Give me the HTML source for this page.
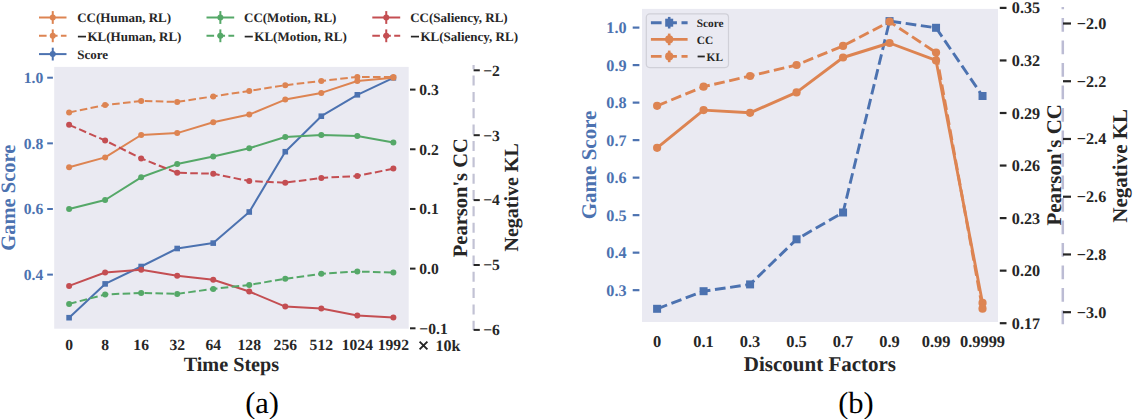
<!DOCTYPE html>
<html><head><meta charset="utf-8"><style>
html,body{margin:0;padding:0;background:#fff;width:1134px;height:419px;overflow:hidden}
svg{display:block;text-rendering:geometricPrecision}
</style></head><body>
<svg width="1134" height="419" viewBox="0 0 1134 419">
<rect x="0" y="0" width="1134" height="419" fill="#fff"/>
<rect x="54.2" y="66.9" width="354.5" height="261.79999999999995" fill="#EAEAF2"/>
<polyline points="69.10,317.70 105.13,283.90 141.16,266.50 177.19,248.50 213.22,243.10 249.25,212.00 285.28,151.70 321.31,116.20 357.34,94.80 393.37,77.80" fill="none" stroke="#4C72B0" stroke-width="2.0" stroke-linejoin="round" stroke-linecap="butt"/>
<rect x="66.30" y="314.90" width="5.6" height="5.6" fill="#4C72B0"/>
<rect x="102.33" y="281.10" width="5.6" height="5.6" fill="#4C72B0"/>
<rect x="138.36" y="263.70" width="5.6" height="5.6" fill="#4C72B0"/>
<rect x="174.39" y="245.70" width="5.6" height="5.6" fill="#4C72B0"/>
<rect x="210.42" y="240.30" width="5.6" height="5.6" fill="#4C72B0"/>
<rect x="246.45" y="209.20" width="5.6" height="5.6" fill="#4C72B0"/>
<rect x="282.48" y="148.90" width="5.6" height="5.6" fill="#4C72B0"/>
<rect x="318.51" y="113.40" width="5.6" height="5.6" fill="#4C72B0"/>
<rect x="354.54" y="92.00" width="5.6" height="5.6" fill="#4C72B0"/>
<rect x="390.57" y="75.00" width="5.6" height="5.6" fill="#4C72B0"/>
<polyline points="69.10,167.30 105.13,157.40 141.16,135.00 177.19,133.10 213.22,122.30 249.25,114.60 285.28,99.60 321.31,92.90 357.34,81.00 393.37,77.80" fill="none" stroke="#DD8452" stroke-width="2.0" stroke-linejoin="round" stroke-linecap="butt"/>
<circle cx="69.10" cy="167.30" r="3.0" fill="#DD8452"/>
<circle cx="105.13" cy="157.40" r="3.0" fill="#DD8452"/>
<circle cx="141.16" cy="135.00" r="3.0" fill="#DD8452"/>
<circle cx="177.19" cy="133.10" r="3.0" fill="#DD8452"/>
<circle cx="213.22" cy="122.30" r="3.0" fill="#DD8452"/>
<circle cx="249.25" cy="114.60" r="3.0" fill="#DD8452"/>
<circle cx="285.28" cy="99.60" r="3.0" fill="#DD8452"/>
<circle cx="321.31" cy="92.90" r="3.0" fill="#DD8452"/>
<circle cx="357.34" cy="81.00" r="3.0" fill="#DD8452"/>
<circle cx="393.37" cy="77.80" r="3.0" fill="#DD8452"/>
<polyline points="69.10,209.00 105.13,200.00 141.16,177.30 177.19,164.10 213.22,156.50 249.25,148.20 285.28,137.00 321.31,135.00 357.34,136.00 393.37,142.40" fill="none" stroke="#55A868" stroke-width="2.0" stroke-linejoin="round" stroke-linecap="butt"/>
<circle cx="69.10" cy="209.00" r="3.0" fill="#55A868"/>
<circle cx="105.13" cy="200.00" r="3.0" fill="#55A868"/>
<circle cx="141.16" cy="177.30" r="3.0" fill="#55A868"/>
<circle cx="177.19" cy="164.10" r="3.0" fill="#55A868"/>
<circle cx="213.22" cy="156.50" r="3.0" fill="#55A868"/>
<circle cx="249.25" cy="148.20" r="3.0" fill="#55A868"/>
<circle cx="285.28" cy="137.00" r="3.0" fill="#55A868"/>
<circle cx="321.31" cy="135.00" r="3.0" fill="#55A868"/>
<circle cx="357.34" cy="136.00" r="3.0" fill="#55A868"/>
<circle cx="393.37" cy="142.40" r="3.0" fill="#55A868"/>
<polyline points="69.10,285.90 105.13,272.50 141.16,269.80 177.19,275.80 213.22,279.80 249.25,291.50 285.28,306.60 321.31,308.60 357.34,315.60 393.37,317.60" fill="none" stroke="#C44E52" stroke-width="2.0" stroke-linejoin="round" stroke-linecap="butt"/>
<circle cx="69.10" cy="285.90" r="3.0" fill="#C44E52"/>
<circle cx="105.13" cy="272.50" r="3.0" fill="#C44E52"/>
<circle cx="141.16" cy="269.80" r="3.0" fill="#C44E52"/>
<circle cx="177.19" cy="275.80" r="3.0" fill="#C44E52"/>
<circle cx="213.22" cy="279.80" r="3.0" fill="#C44E52"/>
<circle cx="249.25" cy="291.50" r="3.0" fill="#C44E52"/>
<circle cx="285.28" cy="306.60" r="3.0" fill="#C44E52"/>
<circle cx="321.31" cy="308.60" r="3.0" fill="#C44E52"/>
<circle cx="357.34" cy="315.60" r="3.0" fill="#C44E52"/>
<circle cx="393.37" cy="317.60" r="3.0" fill="#C44E52"/>
<polyline points="69.10,112.40 105.13,105.10 141.16,101.00 177.19,101.90 213.22,96.40 249.25,90.90 285.28,85.20 321.31,81.00 357.34,76.90 393.37,76.90" fill="none" stroke="#DD8452" stroke-width="2.0" stroke-linejoin="round" stroke-linecap="butt" stroke-dasharray="7.6 3.35"/>
<circle cx="69.10" cy="112.40" r="3.0" fill="#DD8452"/>
<circle cx="105.13" cy="105.10" r="3.0" fill="#DD8452"/>
<circle cx="141.16" cy="101.00" r="3.0" fill="#DD8452"/>
<circle cx="177.19" cy="101.90" r="3.0" fill="#DD8452"/>
<circle cx="213.22" cy="96.40" r="3.0" fill="#DD8452"/>
<circle cx="249.25" cy="90.90" r="3.0" fill="#DD8452"/>
<circle cx="285.28" cy="85.20" r="3.0" fill="#DD8452"/>
<circle cx="321.31" cy="81.00" r="3.0" fill="#DD8452"/>
<circle cx="357.34" cy="76.90" r="3.0" fill="#DD8452"/>
<circle cx="393.37" cy="76.90" r="3.0" fill="#DD8452"/>
<polyline points="69.10,303.90 105.13,294.50 141.16,292.90 177.19,293.90 213.22,288.90 249.25,284.90 285.28,278.80 321.31,273.80 357.34,271.50 393.37,272.50" fill="none" stroke="#55A868" stroke-width="2.0" stroke-linejoin="round" stroke-linecap="butt" stroke-dasharray="7.6 3.35"/>
<circle cx="69.10" cy="303.90" r="3.0" fill="#55A868"/>
<circle cx="105.13" cy="294.50" r="3.0" fill="#55A868"/>
<circle cx="141.16" cy="292.90" r="3.0" fill="#55A868"/>
<circle cx="177.19" cy="293.90" r="3.0" fill="#55A868"/>
<circle cx="213.22" cy="288.90" r="3.0" fill="#55A868"/>
<circle cx="249.25" cy="284.90" r="3.0" fill="#55A868"/>
<circle cx="285.28" cy="278.80" r="3.0" fill="#55A868"/>
<circle cx="321.31" cy="273.80" r="3.0" fill="#55A868"/>
<circle cx="357.34" cy="271.50" r="3.0" fill="#55A868"/>
<circle cx="393.37" cy="272.50" r="3.0" fill="#55A868"/>
<polyline points="69.10,124.80 105.13,140.50 141.16,158.40 177.19,172.80 213.22,173.70 249.25,181.10 285.28,182.70 321.31,177.90 357.34,176.00 393.37,168.60" fill="none" stroke="#C44E52" stroke-width="2.0" stroke-linejoin="round" stroke-linecap="butt" stroke-dasharray="7.6 3.35"/>
<circle cx="69.10" cy="124.80" r="3.0" fill="#C44E52"/>
<circle cx="105.13" cy="140.50" r="3.0" fill="#C44E52"/>
<circle cx="141.16" cy="158.40" r="3.0" fill="#C44E52"/>
<circle cx="177.19" cy="172.80" r="3.0" fill="#C44E52"/>
<circle cx="213.22" cy="173.70" r="3.0" fill="#C44E52"/>
<circle cx="249.25" cy="181.10" r="3.0" fill="#C44E52"/>
<circle cx="285.28" cy="182.70" r="3.0" fill="#C44E52"/>
<circle cx="321.31" cy="177.90" r="3.0" fill="#C44E52"/>
<circle cx="357.34" cy="176.00" r="3.0" fill="#C44E52"/>
<circle cx="393.37" cy="168.60" r="3.0" fill="#C44E52"/>
<line x1="47.2" y1="77.7" x2="52.9" y2="77.7" stroke="#4C72B0" stroke-width="2"/>
<text x="43.2" y="83.0" font-family='"Liberation Serif", serif' font-size="15.6" font-weight="bold" fill="#4C72B0" text-anchor="end">1.0</text>
<line x1="47.2" y1="143.33999999999997" x2="52.9" y2="143.33999999999997" stroke="#4C72B0" stroke-width="2"/>
<text x="43.2" y="148.64" font-family='"Liberation Serif", serif' font-size="15.6" font-weight="bold" fill="#4C72B0" text-anchor="end">0.8</text>
<line x1="47.2" y1="208.98000000000002" x2="52.9" y2="208.98000000000002" stroke="#4C72B0" stroke-width="2"/>
<text x="43.2" y="214.28000000000003" font-family='"Liberation Serif", serif' font-size="15.6" font-weight="bold" fill="#4C72B0" text-anchor="end">0.6</text>
<line x1="47.2" y1="274.62" x2="52.9" y2="274.62" stroke="#4C72B0" stroke-width="2"/>
<text x="43.2" y="279.92" font-family='"Liberation Serif", serif' font-size="15.6" font-weight="bold" fill="#4C72B0" text-anchor="end">0.4</text>
<line x1="410" y1="89.6" x2="415.5" y2="89.6" stroke="#262626" stroke-width="2"/>
<text x="419.3" y="94.89999999999999" font-family='"Liberation Serif", serif' font-size="15.6" font-weight="bold" fill="#262626" text-anchor="start">0.3</text>
<line x1="410" y1="149.27499999999998" x2="415.5" y2="149.27499999999998" stroke="#262626" stroke-width="2"/>
<text x="419.3" y="154.575" font-family='"Liberation Serif", serif' font-size="15.6" font-weight="bold" fill="#262626" text-anchor="start">0.2</text>
<line x1="410" y1="208.95" x2="415.5" y2="208.95" stroke="#262626" stroke-width="2"/>
<text x="419.3" y="214.25" font-family='"Liberation Serif", serif' font-size="15.6" font-weight="bold" fill="#262626" text-anchor="start">0.1</text>
<line x1="410" y1="268.625" x2="415.5" y2="268.625" stroke="#262626" stroke-width="2"/>
<text x="419.3" y="273.925" font-family='"Liberation Serif", serif' font-size="15.6" font-weight="bold" fill="#262626" text-anchor="start">0.0</text>
<line x1="410" y1="328.29999999999995" x2="415.5" y2="328.29999999999995" stroke="#262626" stroke-width="2"/>
<text x="419.3" y="333.59999999999997" font-family='"Liberation Serif", serif' font-size="15.6" font-weight="bold" fill="#262626" text-anchor="start">−0.1</text>
<line x1="473.6" y1="65" x2="473.6" y2="330.1" stroke="#C2C2D4" stroke-width="2.2" stroke-dasharray="10 6.35" stroke-dashoffset="5.8"/>
<line x1="473.6" y1="70.3" x2="479.8" y2="70.3" stroke="#262626" stroke-width="2"/>
<text x="483.2" y="75.6" font-family='"Liberation Serif", serif' font-size="15.6" font-weight="bold" fill="#262626" text-anchor="start">−2</text>
<line x1="473.6" y1="135.2" x2="479.8" y2="135.2" stroke="#262626" stroke-width="2"/>
<text x="483.2" y="140.5" font-family='"Liberation Serif", serif' font-size="15.6" font-weight="bold" fill="#262626" text-anchor="start">−3</text>
<line x1="473.6" y1="200.10000000000002" x2="479.8" y2="200.10000000000002" stroke="#262626" stroke-width="2"/>
<text x="483.2" y="205.40000000000003" font-family='"Liberation Serif", serif' font-size="15.6" font-weight="bold" fill="#262626" text-anchor="start">−4</text>
<line x1="473.6" y1="265.0" x2="479.8" y2="265.0" stroke="#262626" stroke-width="2"/>
<text x="483.2" y="270.3" font-family='"Liberation Serif", serif' font-size="15.6" font-weight="bold" fill="#262626" text-anchor="start">−5</text>
<line x1="473.6" y1="329.90000000000003" x2="479.8" y2="329.90000000000003" stroke="#262626" stroke-width="2"/>
<text x="483.2" y="335.20000000000005" font-family='"Liberation Serif", serif' font-size="15.6" font-weight="bold" fill="#262626" text-anchor="start">−6</text>
<text x="69.1" y="349.9" font-family='"Liberation Serif", serif' font-size="15.6" font-weight="bold" fill="#262626" text-anchor="middle">0</text>
<text x="105.13" y="349.9" font-family='"Liberation Serif", serif' font-size="15.6" font-weight="bold" fill="#262626" text-anchor="middle">8</text>
<text x="141.16" y="349.9" font-family='"Liberation Serif", serif' font-size="15.6" font-weight="bold" fill="#262626" text-anchor="middle">16</text>
<text x="177.19" y="349.9" font-family='"Liberation Serif", serif' font-size="15.6" font-weight="bold" fill="#262626" text-anchor="middle">32</text>
<text x="213.22" y="349.9" font-family='"Liberation Serif", serif' font-size="15.6" font-weight="bold" fill="#262626" text-anchor="middle">64</text>
<text x="249.25" y="349.9" font-family='"Liberation Serif", serif' font-size="15.6" font-weight="bold" fill="#262626" text-anchor="middle">128</text>
<text x="285.28" y="349.9" font-family='"Liberation Serif", serif' font-size="15.6" font-weight="bold" fill="#262626" text-anchor="middle">256</text>
<text x="321.31" y="349.9" font-family='"Liberation Serif", serif' font-size="15.6" font-weight="bold" fill="#262626" text-anchor="middle">512</text>
<text x="357.34" y="349.9" font-family='"Liberation Serif", serif' font-size="15.6" font-weight="bold" fill="#262626" text-anchor="middle">1024</text>
<text x="393.37" y="349.9" font-family='"Liberation Serif", serif' font-size="15.6" font-weight="bold" fill="#262626" text-anchor="middle">1992</text>
<path d="M419.6 341.6 L427.4 349.4 M427.4 341.6 L419.6 349.4" stroke="#262626" stroke-width="1.9" fill="none"/>
<text x="435.4" y="351.0" font-family='"Liberation Serif", serif' font-size="16.0" font-weight="bold" fill="#262626" text-anchor="start">10k</text>
<text x="231.4" y="370.8" font-family='"Liberation Serif", serif' font-size="20.2" font-weight="bold" fill="#262626" text-anchor="middle">Time Steps</text>
<text x="15.0" y="197.7" font-family='"Liberation Serif", serif' font-size="20.5" font-weight="bold" fill="#4C72B0" text-anchor="middle" transform="rotate(-90 15.0 197.7)">Game Score</text>
<text x="466.6" y="197.7" font-family='"Liberation Serif", serif' font-size="20.5" font-weight="bold" fill="#262626" text-anchor="middle" transform="rotate(-90 466.6 197.7)">Pearson&#39;s CC</text>
<text x="518.4" y="197.4" font-family='"Liberation Serif", serif' font-size="20" font-weight="bold" fill="#262626" text-anchor="middle" transform="rotate(-90 518.4 197.4)">Negative KL</text>
<text x="262.1" y="412.9" font-family='"Liberation Serif", serif' font-size="30.5" font-weight="normal" fill="#000" text-anchor="middle">(a)</text>
<polyline points="39.00,17.50 66.50,17.50" fill="none" stroke="#DD8452" stroke-width="2.0" stroke-linejoin="round" stroke-linecap="butt"/>
<line x1="52.75" y1="11.1" x2="52.75" y2="23.9" stroke="#DD8452" stroke-width="2"/>
<circle cx="52.75" cy="17.50" r="3.0" fill="#DD8452"/>
<text x="77.2" y="22.2" font-family='"Liberation Serif", serif' font-size="13" font-weight="bold" fill="#262626" text-anchor="start">CC(Human, RL)</text>
<polyline points="39.00,35.80 66.50,35.80" fill="none" stroke="#DD8452" stroke-width="2.0" stroke-linejoin="round" stroke-linecap="butt" stroke-dasharray="7.6 3.35"/>
<line x1="52.75" y1="29.4" x2="52.75" y2="42.199999999999996" stroke="#DD8452" stroke-width="2"/>
<circle cx="52.75" cy="35.80" r="3.0" fill="#DD8452"/>
<rect x="77.9" y="35.75" width="8.1" height="1.7" fill="#262626"/>
<text x="87.5" y="40.5" font-family='"Liberation Serif", serif' font-size="13" font-weight="bold" fill="#262626" text-anchor="start">KL(Human, RL)</text>
<polyline points="39.00,54.10 66.50,54.10" fill="none" stroke="#4C72B0" stroke-width="2.0" stroke-linejoin="round" stroke-linecap="butt"/>
<line x1="52.75" y1="47.7" x2="52.75" y2="60.5" stroke="#4C72B0" stroke-width="2"/>
<circle cx="52.75" cy="54.10" r="3.0" fill="#4C72B0"/>
<text x="77.2" y="58.8" font-family='"Liberation Serif", serif' font-size="13" font-weight="bold" fill="#262626" text-anchor="start">Score</text>
<polyline points="206.50,17.50 234.20,17.50" fill="none" stroke="#55A868" stroke-width="2.0" stroke-linejoin="round" stroke-linecap="butt"/>
<line x1="220.35" y1="11.1" x2="220.35" y2="23.9" stroke="#55A868" stroke-width="2"/>
<circle cx="220.35" cy="17.50" r="3.0" fill="#55A868"/>
<text x="244.0" y="22.2" font-family='"Liberation Serif", serif' font-size="13" font-weight="bold" fill="#262626" text-anchor="start">CC(Motion, RL)</text>
<polyline points="206.50,35.80 234.20,35.80" fill="none" stroke="#55A868" stroke-width="2.0" stroke-linejoin="round" stroke-linecap="butt" stroke-dasharray="7.6 3.35"/>
<line x1="220.35" y1="29.4" x2="220.35" y2="42.199999999999996" stroke="#55A868" stroke-width="2"/>
<circle cx="220.35" cy="35.80" r="3.0" fill="#55A868"/>
<rect x="244.7" y="35.75" width="8.1" height="1.7" fill="#262626"/>
<text x="254.3" y="40.5" font-family='"Liberation Serif", serif' font-size="13" font-weight="bold" fill="#262626" text-anchor="start">KL(Motion, RL)</text>
<polyline points="372.30,17.50 400.20,17.50" fill="none" stroke="#C44E52" stroke-width="2.0" stroke-linejoin="round" stroke-linecap="butt"/>
<line x1="386.25" y1="11.1" x2="386.25" y2="23.9" stroke="#C44E52" stroke-width="2"/>
<circle cx="386.25" cy="17.50" r="3.0" fill="#C44E52"/>
<text x="410.2" y="22.2" font-family='"Liberation Serif", serif' font-size="13" font-weight="bold" fill="#262626" text-anchor="start">CC(Saliency, RL)</text>
<polyline points="372.30,35.80 400.20,35.80" fill="none" stroke="#C44E52" stroke-width="2.0" stroke-linejoin="round" stroke-linecap="butt" stroke-dasharray="7.6 3.35"/>
<line x1="386.25" y1="29.4" x2="386.25" y2="42.199999999999996" stroke="#C44E52" stroke-width="2"/>
<circle cx="386.25" cy="35.80" r="3.0" fill="#C44E52"/>
<rect x="410.9" y="35.75" width="8.1" height="1.7" fill="#262626"/>
<text x="420.5" y="40.5" font-family='"Liberation Serif", serif' font-size="13" font-weight="bold" fill="#262626" text-anchor="start">KL(Saliency, RL)</text>
<rect x="642.0" y="8.9" width="356.0" height="313.1" fill="#EAEAF2"/>
<polyline points="657.10,308.80 703.59,291.20 750.08,284.40 796.57,239.30 843.06,212.50 889.55,21.10 936.04,27.80 982.53,96.00" fill="none" stroke="#4C72B0" stroke-width="2.9" stroke-linejoin="round" stroke-linecap="butt" stroke-dasharray="10.7 4.6"/>
<rect x="653.10" y="304.80" width="8.0" height="8.0" fill="#4C72B0"/>
<rect x="699.59" y="287.20" width="8.0" height="8.0" fill="#4C72B0"/>
<rect x="746.08" y="280.40" width="8.0" height="8.0" fill="#4C72B0"/>
<rect x="792.57" y="235.30" width="8.0" height="8.0" fill="#4C72B0"/>
<rect x="839.06" y="208.50" width="8.0" height="8.0" fill="#4C72B0"/>
<rect x="885.55" y="17.10" width="8.0" height="8.0" fill="#4C72B0"/>
<rect x="932.04" y="23.80" width="8.0" height="8.0" fill="#4C72B0"/>
<rect x="978.53" y="92.00" width="8.0" height="8.0" fill="#4C72B0"/>
<polyline points="657.10,147.80 703.59,110.10 750.08,112.80 796.57,92.40 843.06,57.50 889.55,43.00 936.04,60.40 982.53,302.90" fill="none" stroke="#DD8452" stroke-width="2.9" stroke-linejoin="round" stroke-linecap="butt"/>
<circle cx="657.10" cy="147.80" r="4.1" fill="#DD8452"/>
<circle cx="703.59" cy="110.10" r="4.1" fill="#DD8452"/>
<circle cx="750.08" cy="112.80" r="4.1" fill="#DD8452"/>
<circle cx="796.57" cy="92.40" r="4.1" fill="#DD8452"/>
<circle cx="843.06" cy="57.50" r="4.1" fill="#DD8452"/>
<circle cx="889.55" cy="43.00" r="4.1" fill="#DD8452"/>
<circle cx="936.04" cy="60.40" r="4.1" fill="#DD8452"/>
<circle cx="982.53" cy="302.90" r="4.1" fill="#DD8452"/>
<polyline points="657.10,105.80 703.59,86.70 750.08,76.00 796.57,65.00 843.06,45.90 889.55,21.70 936.04,52.60 982.53,308.70" fill="none" stroke="#DD8452" stroke-width="2.9" stroke-linejoin="round" stroke-linecap="butt" stroke-dasharray="10.7 4.6"/>
<circle cx="657.10" cy="105.80" r="4.1" fill="#DD8452"/>
<circle cx="703.59" cy="86.70" r="4.1" fill="#DD8452"/>
<circle cx="750.08" cy="76.00" r="4.1" fill="#DD8452"/>
<circle cx="796.57" cy="65.00" r="4.1" fill="#DD8452"/>
<circle cx="843.06" cy="45.90" r="4.1" fill="#DD8452"/>
<circle cx="889.55" cy="21.70" r="4.1" fill="#DD8452"/>
<circle cx="936.04" cy="52.60" r="4.1" fill="#DD8452"/>
<circle cx="982.53" cy="308.70" r="4.1" fill="#DD8452"/>
<rect x="646.3" y="13.8" width="82.2" height="53.8" rx="3.5" fill="#EAEAF2" stroke="#D0D0D8" stroke-width="1.2"/>
<polyline points="650.90,22.70 687.60,22.70" fill="none" stroke="#4C72B0" stroke-width="2.9" stroke-linejoin="round" stroke-linecap="butt" stroke-dasharray="10.7 4.6"/>
<line x1="669.2" y1="16.9" x2="669.2" y2="28.5" stroke="#4C72B0" stroke-width="2.6"/>
<rect x="665.20" y="18.70" width="8.0" height="8.0" fill="#4C72B0"/>
<text x="696.8" y="26.9" font-family='"Liberation Serif", serif' font-size="11.3" font-weight="bold" fill="#262626" text-anchor="start">Score</text>
<polyline points="650.90,39.40 687.60,39.40" fill="none" stroke="#DD8452" stroke-width="2.9" stroke-linejoin="round" stroke-linecap="butt"/>
<line x1="669.2" y1="33.6" x2="669.2" y2="45.199999999999996" stroke="#DD8452" stroke-width="2.6"/>
<circle cx="669.20" cy="39.40" r="4.1" fill="#DD8452"/>
<text x="696.8" y="43.6" font-family='"Liberation Serif", serif' font-size="11.3" font-weight="bold" fill="#262626" text-anchor="start">CC</text>
<polyline points="650.90,56.40 687.60,56.40" fill="none" stroke="#DD8452" stroke-width="2.9" stroke-linejoin="round" stroke-linecap="butt" stroke-dasharray="10.7 4.6"/>
<line x1="669.2" y1="50.6" x2="669.2" y2="62.199999999999996" stroke="#DD8452" stroke-width="2.6"/>
<circle cx="669.20" cy="56.40" r="4.1" fill="#DD8452"/>
<rect x="697.6" y="55.6" width="7.2" height="1.8" fill="#262626"/>
<text x="706.6" y="60.6" font-family='"Liberation Serif", serif' font-size="11.3" font-weight="bold" fill="#262626" text-anchor="start">KL</text>
<line x1="632.7" y1="27.6" x2="639.4" y2="27.6" stroke="#4C72B0" stroke-width="2.2"/>
<text x="626.6" y="33.1" font-family='"Liberation Serif", serif' font-size="16.2" font-weight="bold" fill="#4C72B0" text-anchor="end">1.0</text>
<line x1="632.7" y1="65.11" x2="639.4" y2="65.11" stroke="#4C72B0" stroke-width="2.2"/>
<text x="626.6" y="70.61" font-family='"Liberation Serif", serif' font-size="16.2" font-weight="bold" fill="#4C72B0" text-anchor="end">0.9</text>
<line x1="632.7" y1="102.62" x2="639.4" y2="102.62" stroke="#4C72B0" stroke-width="2.2"/>
<text x="626.6" y="108.12" font-family='"Liberation Serif", serif' font-size="16.2" font-weight="bold" fill="#4C72B0" text-anchor="end">0.8</text>
<line x1="632.7" y1="140.13" x2="639.4" y2="140.13" stroke="#4C72B0" stroke-width="2.2"/>
<text x="626.6" y="145.63" font-family='"Liberation Serif", serif' font-size="16.2" font-weight="bold" fill="#4C72B0" text-anchor="end">0.7</text>
<line x1="632.7" y1="177.64" x2="639.4" y2="177.64" stroke="#4C72B0" stroke-width="2.2"/>
<text x="626.6" y="183.14" font-family='"Liberation Serif", serif' font-size="16.2" font-weight="bold" fill="#4C72B0" text-anchor="end">0.6</text>
<line x1="632.7" y1="215.14999999999998" x2="639.4" y2="215.14999999999998" stroke="#4C72B0" stroke-width="2.2"/>
<text x="626.6" y="220.64999999999998" font-family='"Liberation Serif", serif' font-size="16.2" font-weight="bold" fill="#4C72B0" text-anchor="end">0.5</text>
<line x1="632.7" y1="252.66" x2="639.4" y2="252.66" stroke="#4C72B0" stroke-width="2.2"/>
<text x="626.6" y="258.15999999999997" font-family='"Liberation Serif", serif' font-size="16.2" font-weight="bold" fill="#4C72B0" text-anchor="end">0.4</text>
<line x1="632.7" y1="290.17" x2="639.4" y2="290.17" stroke="#4C72B0" stroke-width="2.2"/>
<text x="626.6" y="295.67" font-family='"Liberation Serif", serif' font-size="16.2" font-weight="bold" fill="#4C72B0" text-anchor="end">0.3</text>
<line x1="999.8" y1="7.9" x2="1006.5" y2="7.9" stroke="#262626" stroke-width="2.2"/>
<text x="1011.8" y="13.4" font-family='"Liberation Serif", serif' font-size="16.2" font-weight="bold" fill="#262626" text-anchor="start">0.35</text>
<line x1="999.8" y1="60.449999999999996" x2="1006.5" y2="60.449999999999996" stroke="#262626" stroke-width="2.2"/>
<text x="1011.8" y="65.94999999999999" font-family='"Liberation Serif", serif' font-size="16.2" font-weight="bold" fill="#262626" text-anchor="start">0.32</text>
<line x1="999.8" y1="113.0" x2="1006.5" y2="113.0" stroke="#262626" stroke-width="2.2"/>
<text x="1011.8" y="118.5" font-family='"Liberation Serif", serif' font-size="16.2" font-weight="bold" fill="#262626" text-anchor="start">0.29</text>
<line x1="999.8" y1="165.54999999999998" x2="1006.5" y2="165.54999999999998" stroke="#262626" stroke-width="2.2"/>
<text x="1011.8" y="171.04999999999998" font-family='"Liberation Serif", serif' font-size="16.2" font-weight="bold" fill="#262626" text-anchor="start">0.26</text>
<line x1="999.8" y1="218.1" x2="1006.5" y2="218.1" stroke="#262626" stroke-width="2.2"/>
<text x="1011.8" y="223.6" font-family='"Liberation Serif", serif' font-size="16.2" font-weight="bold" fill="#262626" text-anchor="start">0.23</text>
<line x1="999.8" y1="270.65" x2="1006.5" y2="270.65" stroke="#262626" stroke-width="2.2"/>
<text x="1011.8" y="276.15" font-family='"Liberation Serif", serif' font-size="16.2" font-weight="bold" fill="#262626" text-anchor="start">0.20</text>
<line x1="999.8" y1="323.19999999999993" x2="1006.5" y2="323.19999999999993" stroke="#262626" stroke-width="2.2"/>
<text x="1011.8" y="328.69999999999993" font-family='"Liberation Serif", serif' font-size="16.2" font-weight="bold" fill="#262626" text-anchor="start">0.17</text>
<line x1="1062.8" y1="7" x2="1062.8" y2="324.3" stroke="#BCBCD4" stroke-width="2.5" stroke-dasharray="13.9 8.6" stroke-dashoffset="11.6"/>
<line x1="1063" y1="23.5" x2="1071" y2="23.5" stroke="#262626" stroke-width="2.2"/>
<text x="1076.8" y="29.0" font-family='"Liberation Serif", serif' font-size="16.2" font-weight="bold" fill="#262626" text-anchor="start">−2.0</text>
<line x1="1063" y1="81.24000000000001" x2="1071" y2="81.24000000000001" stroke="#262626" stroke-width="2.2"/>
<text x="1076.8" y="86.74000000000001" font-family='"Liberation Serif", serif' font-size="16.2" font-weight="bold" fill="#262626" text-anchor="start">−2.2</text>
<line x1="1063" y1="138.98000000000002" x2="1071" y2="138.98000000000002" stroke="#262626" stroke-width="2.2"/>
<text x="1076.8" y="144.48000000000002" font-family='"Liberation Serif", serif' font-size="16.2" font-weight="bold" fill="#262626" text-anchor="start">−2.4</text>
<line x1="1063" y1="196.72" x2="1071" y2="196.72" stroke="#262626" stroke-width="2.2"/>
<text x="1076.8" y="202.22" font-family='"Liberation Serif", serif' font-size="16.2" font-weight="bold" fill="#262626" text-anchor="start">−2.6</text>
<line x1="1063" y1="254.46" x2="1071" y2="254.46" stroke="#262626" stroke-width="2.2"/>
<text x="1076.8" y="259.96000000000004" font-family='"Liberation Serif", serif' font-size="16.2" font-weight="bold" fill="#262626" text-anchor="start">−2.8</text>
<line x1="1063" y1="312.2" x2="1071" y2="312.2" stroke="#262626" stroke-width="2.2"/>
<text x="1076.8" y="317.7" font-family='"Liberation Serif", serif' font-size="16.2" font-weight="bold" fill="#262626" text-anchor="start">−3.0</text>
<text x="657.1" y="346.8" font-family='"Liberation Serif", serif' font-size="16.4" font-weight="bold" fill="#262626" text-anchor="middle">0</text>
<text x="703.59" y="346.8" font-family='"Liberation Serif", serif' font-size="16.4" font-weight="bold" fill="#262626" text-anchor="middle">0.1</text>
<text x="750.08" y="346.8" font-family='"Liberation Serif", serif' font-size="16.4" font-weight="bold" fill="#262626" text-anchor="middle">0.3</text>
<text x="796.57" y="346.8" font-family='"Liberation Serif", serif' font-size="16.4" font-weight="bold" fill="#262626" text-anchor="middle">0.5</text>
<text x="843.06" y="346.8" font-family='"Liberation Serif", serif' font-size="16.4" font-weight="bold" fill="#262626" text-anchor="middle">0.7</text>
<text x="889.55" y="346.8" font-family='"Liberation Serif", serif' font-size="16.4" font-weight="bold" fill="#262626" text-anchor="middle">0.9</text>
<text x="936.04" y="346.8" font-family='"Liberation Serif", serif' font-size="16.4" font-weight="bold" fill="#262626" text-anchor="middle">0.99</text>
<text x="982.53" y="346.8" font-family='"Liberation Serif", serif' font-size="16.4" font-weight="bold" fill="#262626" text-anchor="middle">0.9999</text>
<text x="819.9" y="370.6" font-family='"Liberation Serif", serif' font-size="21.0" font-weight="bold" fill="#262626" text-anchor="middle">Discount Factors</text>
<text x="595.6" y="164.9" font-family='"Liberation Serif", serif' font-size="21" font-weight="bold" fill="#4C72B0" text-anchor="middle" transform="rotate(-90 595.6 164.9)">Game Score</text>
<text x="1061.0" y="164.8" font-family='"Liberation Serif", serif' font-size="20.9" font-weight="bold" fill="#262626" text-anchor="middle" transform="rotate(-90 1061.0 164.8)">Pearson&#39;s CC</text>
<text x="1127.5" y="165.8" font-family='"Liberation Serif", serif' font-size="21.0" font-weight="bold" fill="#262626" text-anchor="middle" transform="rotate(-90 1127.5 165.8)">Negative KL</text>
<text x="856.0" y="412.8" font-family='"Liberation Serif", serif' font-size="30.5" font-weight="normal" fill="#000" text-anchor="middle">(b)</text>
</svg></body></html>
